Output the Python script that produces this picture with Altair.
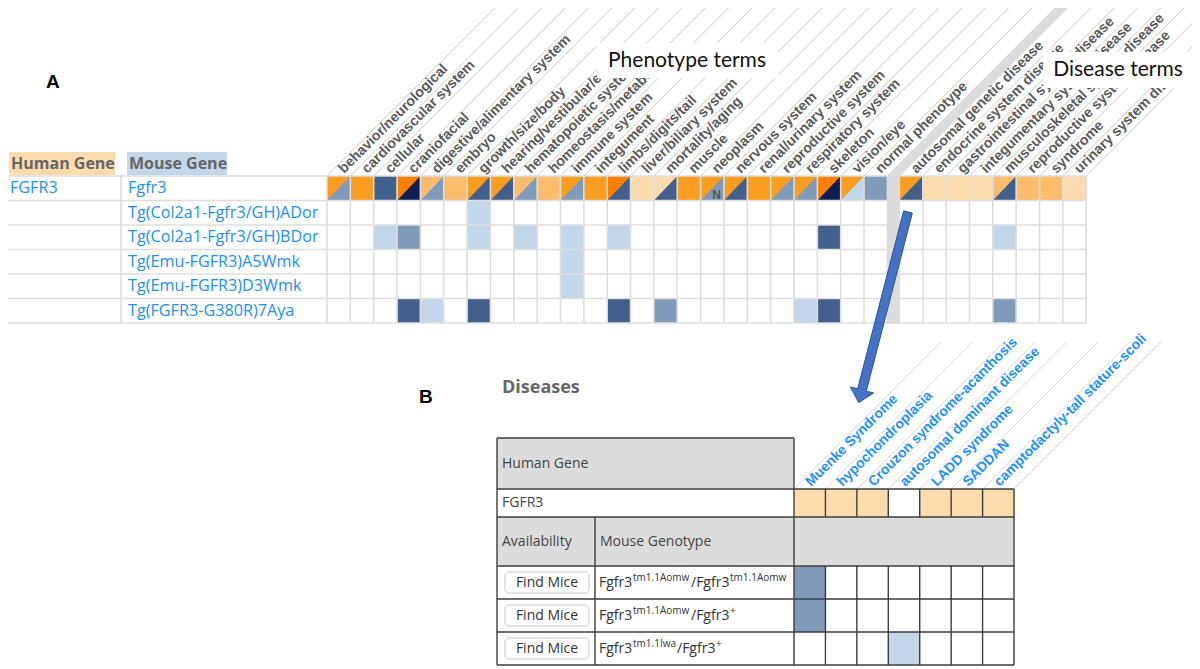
import math
import altair as alt
import pandas as pd

# ---------------------------------------------------------------- data
phenotype_terms = [
    "behavior/neurological", "cardiovascular system", "cellular", "craniofacial",
    "digestive/alimentary system", "embryo", "growth/size/body", "hearing/vestibular/ear",
    "hematopoietic system", "homeostasis/metabolism", "immune system", "integument",
    "limbs/digits/tail", "liver/biliary system", "mortality/aging", "muscle", "neoplasm",
    "nervous system", "renal/urinary system", "reproductive system", "respiratory system",
    "skeleton", "vision/eye", "normal phenotype",
]
disease_terms = [
    "autosomal genetic disease", "endocrine system disease", "gastrointestinal system disease",
    "integumentary system disease", "musculoskeletal system disease",
    "reproductive system disease", "syndrome", "urinary system disease",
]
human_gene = "FGFR3"
mouse_genes = [
    "Fgfr3", "Tg(Col2a1-Fgfr3/GH)ADor", "Tg(Col2a1-Fgfr3/GH)BDor",
    "Tg(Emu-FGFR3)A5Wmk", "Tg(Emu-FGFR3)D3Wmk", "Tg(FGFR3-G380R)7Aya",
]

# annotation levels -> colours
level_colors = {
    "O": "#fa9d20", "DO": "#ff7f00", "LO": "#fbbd6c", "VLO": "#fcdcad",
    "NV": "#0f1f55", "DB": "#42608b", "BG": "#7f9aba", "LB": "#c3d7ea", "W": "#ffffff",
}

# Fgfr3 row: human annotation (upper-left half) and mouse annotation (lower-right half)
fgfr3_pheno_human = ["O", "O", "DB", "DO", "LO", "LO", "O", "O", "LO", "LO", "O", "O",
                     "DO", "VLO", "VLO", "O", "O", "O", "O", "O", "O", "DO", "O", "BG"]
fgfr3_pheno_mouse = ["BG", "O", "DB", "NV", "BG", "LO", "DB", "DB", "BG", "LO", "BG", "O",
                     "DB", "VLO", "DB", "O", "BG", "DB", "O", "BG", "BG", "NV", "LB", "BG"]
fgfr3_dis_human = ["O", "VLO", "VLO", "VLO", "LO", "LO", "LO", "VLO"]
fgfr3_dis_mouse = ["DB", "VLO", "VLO", "VLO", "DB", "LO", "LO", "VLO"]
normal_flag_term = "neoplasm"

# transgenic lines: gene, term, level
tg_gene = ["Tg(Col2a1-Fgfr3/GH)ADor",
           "Tg(Col2a1-Fgfr3/GH)BDor", "Tg(Col2a1-Fgfr3/GH)BDor", "Tg(Col2a1-Fgfr3/GH)BDor",
           "Tg(Col2a1-Fgfr3/GH)BDor", "Tg(Col2a1-Fgfr3/GH)BDor", "Tg(Col2a1-Fgfr3/GH)BDor",
           "Tg(Col2a1-Fgfr3/GH)BDor", "Tg(Col2a1-Fgfr3/GH)BDor",
           "Tg(Emu-FGFR3)A5Wmk", "Tg(Emu-FGFR3)D3Wmk",
           "Tg(FGFR3-G380R)7Aya", "Tg(FGFR3-G380R)7Aya", "Tg(FGFR3-G380R)7Aya",
           "Tg(FGFR3-G380R)7Aya", "Tg(FGFR3-G380R)7Aya", "Tg(FGFR3-G380R)7Aya",
           "Tg(FGFR3-G380R)7Aya", "Tg(FGFR3-G380R)7Aya"]
tg_term = ["growth/size/body",
           "cellular", "craniofacial", "growth/size/body", "hematopoietic system",
           "immune system", "limbs/digits/tail", "skeleton", "musculoskeletal system disease",
           "immune system", "immune system",
           "craniofacial", "digestive/alimentary system", "growth/size/body",
           "limbs/digits/tail", "mortality/aging", "respiratory system", "skeleton",
           "musculoskeletal system disease"]
tg_level = ["LB",
            "LB", "BG", "LB", "LB", "LB", "LB", "DB", "LB",
            "LB", "LB",
            "DB", "LB", "DB", "DB", "BG", "LB", "DB", "BG"]

# panel B
b_diseases = ["Muenke Syndrome", "hypochondroplasia",
              "Crouzon syndrome-acanthosis nigricans syndrome", "autosomal dominant disease",
              "LADD syndrome", "SADDAN",
              "camptodactyly-tall stature-scoliosis-hearing loss syndrome"]
b_human_level = ["VLO", "VLO", "VLO", "W", "VLO", "VLO", "VLO"]
b_geno_base = ["Fgfr3", "Fgfr3", "Fgfr3"]
b_geno_sup1 = ["tm1.1Aomw", "tm1.1Aomw", "tm1.1Iwa"]
b_geno_base2 = ["/Fgfr3", "/Fgfr3", "/Fgfr3"]
b_geno_sup2 = ["tm1.1Aomw", "+", "+"]
b_cell_row = [0, 1, 2]
b_cell_col = ["Muenke Syndrome", "Muenke Syndrome", "autosomal dominant disease"]
b_cell_level = ["BG", "BG", "LB"]

# ---------------------------------------------------------------- layout
W, H = 1184, 659
XS = alt.Scale(domain=[8, 8 + W], nice=False, zero=False)
YS = alt.Scale(domain=[8, 8 + H], nice=False, zero=False, reverse=True)

A_X0, A_CW, A_Y0, A_RH = 327.0, 23.35, 176.0, 24.5
A_SEP = 12.0
A_TOP = 3.0
A_HDR = A_Y0 - A_TOP
A_DX0 = A_X0 + len(phenotype_terms) * A_CW + A_SEP
A_Y1 = A_Y0 + len(mouse_genes) * A_RH
A_XEND = A_DX0 + len(disease_terms) * A_CW
T_X0, T_X1 = 3.0, 121.0

B_X0, B_AV, B_C0, B_CW = 497.0, 595.0, 794.0, 31.43
B_ROWS = [438.0, 489.0, 517.0, 566.0, 599.0, 632.0, 665.0]
B_HTOP = 342.0
B_X1 = B_C0 + len(b_diseases) * B_CW


def col_left(term):
    if term in phenotype_terms:
        return A_X0 + phenotype_terms.index(term) * A_CW
    return A_DX0 + disease_terms.index(term) * A_CW


def X(f="x"):
    return alt.X(f"{f}:Q", scale=XS, axis=None)


def Y(f="y"):
    return alt.Y(f"{f}:Q", scale=YS, axis=None)


def rect_layer(df, **kw):
    return alt.Chart(df).mark_rect(**kw).encode(
        x=X(), x2="x2:Q", y=Y(), y2="y2:Q", fill=alt.Fill("fill:N", scale=None))


def rule_layer(df, **kw):
    return alt.Chart(df).mark_rule(**kw).encode(x=X(), x2="x2:Q", y=Y(), y2="y2:Q")


def text_layer(df, **kw):
    kw.setdefault("align", "left")
    kw.setdefault("baseline", "middle")
    return alt.Chart(df).mark_text(**kw).encode(x=X(), y=Y(), text="text:N")


layers = []

# ---------- panel A header: diagonal guide lines, separator band, labels
bounds = [A_X0 + i * A_CW for i in range(len(phenotype_terms) + 1)] + \
         [A_DX0 + j * A_CW for j in range(len(disease_terms) + 1)]
layers.append(rule_layer(pd.DataFrame({
    "x": bounds, "x2": [b + A_HDR for b in bounds],
    "y": [A_Y0] * len(bounds), "y2": [A_TOP] * len(bounds)}),
    color="#cbcbcb", strokeWidth=1))
layers.append(rule_layer(pd.DataFrame({
    "x": [A_X0 + A_HDR], "x2": [1200.0], "y": [A_TOP], "y2": [A_TOP]}),
    color="#cbcbcb", strokeWidth=1))
sep_x = A_X0 + len(phenotype_terms) * A_CW
band = pd.DataFrame({"y": [A_Y1, A_Y0, A_TOP],
                     "x": [sep_x, sep_x, sep_x + A_HDR],
                     "x2": [sep_x + A_SEP, sep_x + A_SEP, sep_x + A_SEP + A_HDR]})
layers.append(alt.Chart(band).mark_area(orient="horizontal", color="#dcdcdc", opacity=1).encode(
    y=Y(), x=X(), x2="x2:Q"))

all_terms = phenotype_terms + disease_terms
layers.append(text_layer(pd.DataFrame({
    "x": [col_left(t) + 17 for t in all_terms],
    "y": [A_Y0 - 2] * len(all_terms), "text": all_terms}),
    angle=315, baseline="alphabetic", font="Liberation Sans", fontWeight="bold",
    fontSize=14.2, color="#5a5a5a"))

# title boxes
layers.append(rect_layer(pd.DataFrame({
    "x": [597.0, 1043.0], "x2": [778.0, 1200.0], "y": [43.0, 52.0], "y2": [78.0, 88.0],
    "fill": ["#ffffff", "#ffffff"]})))
layers.append(text_layer(pd.DataFrame({
    "x": [687.0, 1118.0], "y": [61.0, 70.0], "text": ["Phenotype terms", "Disease terms"]}),
    align="center", font="Lato", fontSize=21, color="#111111"))

# ---------- left table header
layers.append(rect_layer(pd.DataFrame({
    "x": [9.0, 127.0], "x2": [115.0, 227.0], "y": [152.0, 152.0], "y2": [175.0, 175.0],
    "fill": [level_colors["VLO"], level_colors["LB"]]})))
layers.append(text_layer(pd.DataFrame({
    "x": [11.0, 129.0], "y": [164.0, 164.0], "text": ["Human Gene", "Mouse Gene"]}),
    font="Open Sans", fontWeight="bold", fontSize=16, color="#666666"))

# ---------- panel A cells
cells = []
for i, t in enumerate(phenotype_terms):
    cells.append((col_left(t), A_Y0, level_colors[fgfr3_pheno_mouse[i]]))
for j, t in enumerate(disease_terms):
    cells.append((col_left(t), A_Y0, level_colors[fgfr3_dis_mouse[j]]))
for g, t, lv in zip(tg_gene, tg_term, tg_level):
    cells.append((col_left(t), A_Y0 + mouse_genes.index(g) * A_RH, level_colors[lv]))
layers.append(rect_layer(pd.DataFrame({
    "x": [c[0] for c in cells], "x2": [c[0] + A_CW for c in cells],
    "y": [c[1] for c in cells], "y2": [c[1] + A_RH for c in cells],
    "fill": [c[2] for c in cells]})))

# upper-left triangles (human annotation)
tri_shape = "M -1 -{r:.4f} L 1 -{r:.4f} L -1 {r:.4f} Z".format(r=A_RH / A_CW)
tri = []
for i, t in enumerate(phenotype_terms):
    tri.append((col_left(t) + A_CW / 2, level_colors[fgfr3_pheno_human[i]]))
for j, t in enumerate(disease_terms):
    tri.append((col_left(t) + A_CW / 2, level_colors[fgfr3_dis_human[j]]))
layers.append(alt.Chart(pd.DataFrame({
    "x": [p[0] for p in tri], "y": [A_Y0 + A_RH / 2] * len(tri), "fill": [p[1] for p in tri]})
).mark_point(shape=tri_shape, size=A_CW ** 2, filled=True, opacity=1, strokeWidth=0).encode(
    x=X(), y=Y(), fill=alt.Fill("fill:N", scale=None)))

# grid lines
vx = [T_X0, T_X1] + bounds
layers.append(rule_layer(pd.DataFrame({
    "x": vx, "x2": vx, "y": [A_Y0] * len(vx), "y2": [A_Y1] * len(vx)}),
    color="#dedede", strokeWidth=1.6))
hy = [A_Y0 + k * A_RH for k in range(len(mouse_genes) + 1)]
layers.append(rule_layer(pd.DataFrame({
    "x": [T_X0] * len(hy), "x2": [A_XEND] * len(hy), "y": hy, "y2": hy}),
    color="#dedede", strokeWidth=1.6))
layers.append(rect_layer(pd.DataFrame({
    "x": [sep_x], "x2": [sep_x + A_SEP], "y": [A_Y0 - 1], "y2": [A_Y1 + 1], "fill": ["#dcdcdc"]})))

# "N" flag
layers.append(text_layer(pd.DataFrame({
    "x": [col_left(normal_flag_term) + A_CW - 3], "y": [A_Y0 + A_RH - 6], "text": ["N"]}),
    align="right", font="Liberation Sans", fontWeight="bold", fontSize=12, color="#555555"))

# gene names
layers.append(text_layer(pd.DataFrame({
    "x": [10.0] + [128.0] * len(mouse_genes),
    "y": [A_Y0 + A_RH / 2] + [A_Y0 + (k + 0.5) * A_RH for k in range(len(mouse_genes))],
    "text": [human_gene] + mouse_genes}),
    font="Open Sans", fontSize=16.2, color="#1e8ff0"))

# ---------- panel B
layers.append(text_layer(pd.DataFrame({"x": [502.0], "y": [388.0], "text": ["Diseases"]}),
                         font="Open Sans", fontWeight="bold", fontSize=18, color="#666666"))

b_bounds = [B_C0 + j * B_CW for j in range(len(b_diseases) + 1)]
b_hdr = B_ROWS[1] - B_HTOP
layers.append(rule_layer(pd.DataFrame({
    "x": b_bounds, "x2": [b + b_hdr for b in b_bounds],
    "y": [B_ROWS[1]] * len(b_bounds), "y2": [B_HTOP] * len(b_bounds)}),
    color="#d6d6d6", strokeWidth=1))
layers.append(text_layer(pd.DataFrame({
    "x": [b + 17 for b in b_bounds[:-1]], "y": [B_ROWS[1] - 2] * len(b_diseases),
    "text": b_diseases}),
    angle=315, baseline="alphabetic", font="Liberation Sans", fontWeight="bold",
    fontSize=13.9, color="#1e90ff", limit=214, ellipsis=" "))

bf = [
    (B_X0, B_C0, B_ROWS[0], B_ROWS[1], "#dcdcdc"),
    (B_X0, B_X1, B_ROWS[2], B_ROWS[3], "#dcdcdc"),
]
for j, lv in enumerate(b_human_level):
    bf.append((b_bounds[j], b_bounds[j + 1], B_ROWS[1], B_ROWS[2], level_colors[lv]))
for r, c, lv in zip(b_cell_row, b_cell_col, b_cell_level):
    j = b_diseases.index(c)
    bf.append((b_bounds[j], b_bounds[j + 1], B_ROWS[3 + r], B_ROWS[4 + r], level_colors[lv]))
layers.append(rect_layer(pd.DataFrame({
    "x": [f[0] for f in bf], "x2": [f[1] for f in bf],
    "y": [f[2] for f in bf], "y2": [f[3] for f in bf], "fill": [f[4] for f in bf]})))

# panel B grid
segs = [(B_X0, B_C0, B_ROWS[0], B_ROWS[0])]
for yy in B_ROWS[1:]:
    segs.append((B_X0, B_X1, yy, yy))
segs.append((B_X0, B_X0, B_ROWS[0], B_ROWS[-1]))
segs.append((B_C0, B_C0, B_ROWS[0], B_ROWS[-1]))
segs.append((B_AV, B_AV, B_ROWS[2], B_ROWS[-1]))
for b in b_bounds[1:]:
    segs.append((b, b, B_ROWS[1], B_ROWS[2]))
    segs.append((b, b, B_ROWS[3], B_ROWS[-1]))
segs.append((B_X1, B_X1, B_ROWS[2], B_ROWS[3]))
layers.append(rule_layer(pd.DataFrame({
    "x": [s[0] for s in segs], "x2": [s[1] for s in segs],
    "y": [s[2] for s in segs], "y2": [s[3] for s in segs]}),
    color="#3c3c3c", strokeWidth=1.4))

# buttons
nb = len(b_geno_base)
ry = [(B_ROWS[3 + k] + B_ROWS[4 + k]) / 2 for k in range(nb)]
layers.append(alt.Chart(pd.DataFrame({
    "x": [505.0] * nb, "x2": [589.0] * nb,
    "y": [B_ROWS[3 + k] + 6 for k in range(nb)], "y2": [B_ROWS[4 + k] - 6 for k in range(nb)]})
).mark_rect(fill="#ffffff", stroke="#c8c8c8", strokeWidth=1, cornerRadius=4).encode(
    x=X(), x2="x2:Q", y=Y(), y2="y2:Q"))
layers.append(text_layer(pd.DataFrame({"x": [547.0] * nb, "y": ry, "text": ["Find Mice"] * nb}),
                         align="center", font="Open Sans", fontSize=14, color="#333333"))

# table text
layers.append(text_layer(pd.DataFrame({
    "x": [502.0, 502.0, 502.0, 600.0],
    "y": [(B_ROWS[0] + B_ROWS[1]) / 2, (B_ROWS[1] + B_ROWS[2]) / 2,
          (B_ROWS[2] + B_ROWS[3]) / 2, (B_ROWS[2] + B_ROWS[3]) / 2],
    "text": ["Human Gene", human_gene, "Availability", "Mouse Genotype"]}),
    font="Open Sans", fontSize=14, color="#444444"))

# genotypes with superscripts
seg_x = [[599.0, 633.0, 691.0, 730.0], [599.0, 633.0, 691.0, 730.0], [599.0, 633.0, 677.0, 716.0]]
base_rows = {"x": [], "y": [], "text": []}
sup_rows = {"x": [], "y": [], "text": []}
for k in range(nb):
    base_rows["x"] += [seg_x[k][0], seg_x[k][2]]
    base_rows["y"] += [ry[k], ry[k]]
    base_rows["text"] += [b_geno_base[k], b_geno_base2[k]]
    sup_rows["x"] += [seg_x[k][1], seg_x[k][3]]
    sup_rows["y"] += [ry[k] - 5, ry[k] - 5]
    sup_rows["text"] += [b_geno_sup1[k], b_geno_sup2[k]]
layers.append(text_layer(pd.DataFrame(base_rows), font="Open Sans", fontSize=14, color="#333333"))
layers.append(text_layer(pd.DataFrame(sup_rows), font="Open Sans", fontSize=10, color="#333333"))

# ---------- arrow (from disease column of panel A down to panel B)
start, base_pt = (908.0, 212.0), (862.0, 390.0)
L = math.hypot(base_pt[0] - start[0], base_pt[1] - start[1])
d = ((base_pt[0] - start[0]) / L, (base_pt[1] - start[1]) / L)
n = (-d[1], d[0])
hw, HW, HL = 4.5, 12.0, 13.0
tip = (base_pt[0] + HL * d[0], base_pt[1] + HL * d[1])
pts = [
    (start[0] + hw * n[0], start[1] + hw * n[1]),
    (base_pt[0] + hw * n[0], base_pt[1] + hw * n[1]),
    (base_pt[0] + HW * n[0], base_pt[1] + HW * n[1]),
    tip,
    (base_pt[0] - HW * n[0], base_pt[1] - HW * n[1]),
    (base_pt[0] - hw * n[0], base_pt[1] - hw * n[1]),
    (start[0] - hw * n[0], start[1] - hw * n[1]),
]
cx, cy = (start[0] + tip[0]) / 2, (start[1] + tip[1]) / 2
K = 100.0
arrow_path = "M " + " L ".join(f"{(px - cx) / K:.4f} {(py - cy) / K:.4f}" for px, py in pts) + " Z"
layers.append(alt.Chart(pd.DataFrame({"x": [cx], "y": [cy]})).mark_point(
    shape=arrow_path, size=(2 * K) ** 2, filled=True, fill="#4472c4", stroke="#2f528f",
    strokeWidth=1, opacity=1).encode(x=X(), y=Y()))

# ---------- panel letters
layers.append(text_layer(pd.DataFrame({"x": [46.0, 419.0], "y": [82.0, 397.0], "text": ["A", "B"]}),
                         font="Liberation Sans", fontWeight="bold", fontSize=19, color="#000000"))

chart = alt.layer(*layers).properties(
    width=W, height=H, autosize=alt.AutoSizeParams(type="none"), padding=0,
    background="white",
).configure_view(stroke="transparent")

chart.save("out.html", embed_options={"renderer": "svg", "actions": False})
